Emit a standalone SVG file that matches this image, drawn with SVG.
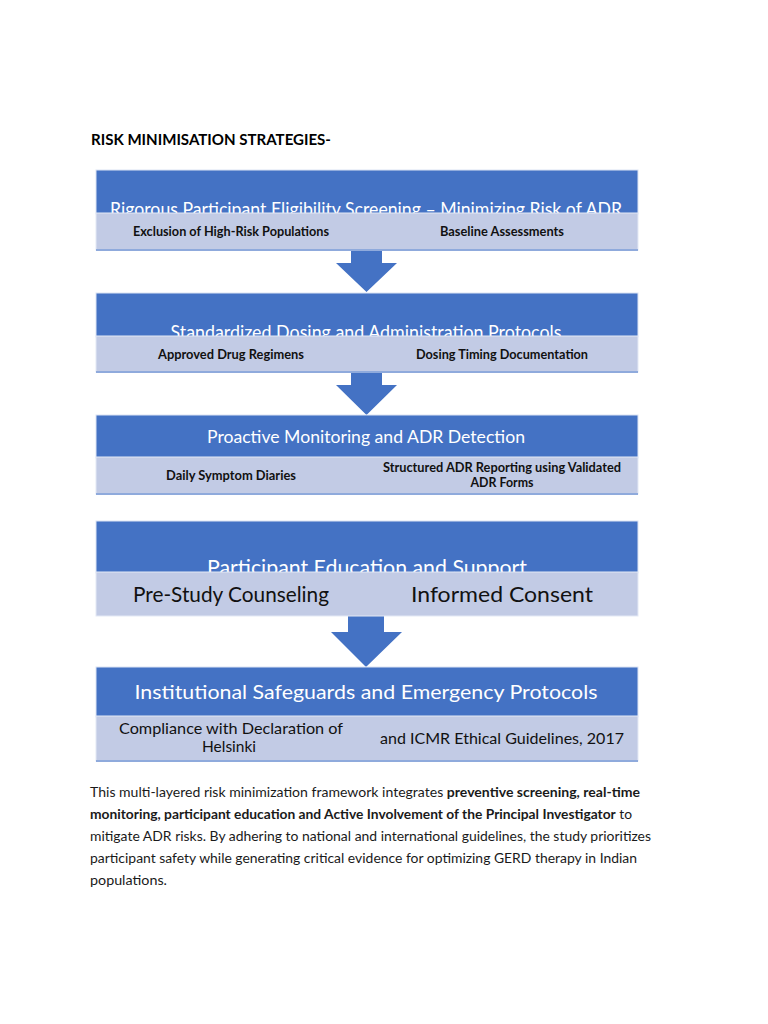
<svg xmlns="http://www.w3.org/2000/svg" width="768" height="1024" viewBox="0 0 768 1024">
<style>
.blue{fill:#4472C4;stroke:#DCE4F4;stroke-width:1}
.band{fill:#C2CBE5;stroke:#E4E9F5;stroke-width:1}
.line{stroke:#8FAADC;stroke-width:2}
.ttl{font-family:Lato,"Liberation Sans",sans-serif;fill:#FFFFFF;text-anchor:middle}
.sub{font-family:Lato,"Liberation Sans",sans-serif;fill:#111111;text-anchor:middle}
.b{font-weight:bold}
.para{font-family:Lato,"Liberation Sans",sans-serif;font-size:13.5px;fill:#1a1a1a}
.arrow{fill:#4472C4}
</style>
<rect width="768" height="1024" fill="#FFFFFF"/>
<text x="91" y="145" font-family="Lato,'Liberation Sans',sans-serif" font-weight="bold" font-size="14.5" fill="#000" textLength="240" lengthAdjust="spacingAndGlyphs">RISK MINIMISATION STRATEGIES-</text>

<g id="connectors">
<polygon class="arrow" points="351,250 382,250 382,263 397,263 366.5,292 336,263 351,263"/>
<polygon class="arrow" points="351,372 382,372 382,385 397,385 366.5,415 336,385 351,385"/>
<polygon class="arrow" points="348,616 384,616 384,632 402,632 366,667 331,632 348,632"/>
</g>

<g id="node1">
<rect class="blue" x="96" y="170" width="542" height="44"/>
<text class="ttl" x="366" y="216" font-size="18.5" textLength="512" lengthAdjust="spacingAndGlyphs">Rigorous Participant Eligibility Screening – Minimizing Risk of ADR</text>
<rect class="band" x="96" y="213" width="542" height="37"/>
<line class="line" x1="96" y1="250" x2="638" y2="250" stroke-width="1"/>
<text class="sub b" x="231" y="236" font-size="12.5" textLength="196" lengthAdjust="spacingAndGlyphs">Exclusion of High-Risk Populations</text>
<text class="sub b" x="502" y="236" font-size="12.5" textLength="124" lengthAdjust="spacingAndGlyphs">Baseline Assessments</text>
</g>

<g id="node2">
<rect class="blue" x="96" y="293" width="542" height="44"/>
<text class="ttl" x="366" y="339" font-size="18.5" textLength="391" lengthAdjust="spacingAndGlyphs">Standardized Dosing and Administration Protocols</text>
<rect class="band" x="96" y="336" width="542" height="36"/>
<line class="line" x1="96" y1="372" x2="638" y2="372" stroke-width="1"/>
<text class="sub b" x="231" y="359" font-size="12.5" textLength="146" lengthAdjust="spacingAndGlyphs">Approved Drug Regimens</text>
<text class="sub b" x="502" y="359" font-size="12.5" textLength="172" lengthAdjust="spacingAndGlyphs">Dosing Timing Documentation</text>
</g>

<g id="node3">
<rect class="blue" x="96" y="415" width="542" height="43"/>
<text class="ttl" x="366" y="443" font-size="17" textLength="318" lengthAdjust="spacingAndGlyphs">Proactive Monitoring and ADR Detection</text>
<rect class="band" x="96" y="457" width="542" height="37"/>
<line class="line" x1="96" y1="494" x2="638" y2="494"/>
<text class="sub b" x="231" y="480" font-size="12.5" textLength="130" lengthAdjust="spacingAndGlyphs">Daily Symptom Diaries</text>
<text class="sub b" x="502" y="472" font-size="12.5" textLength="238" lengthAdjust="spacingAndGlyphs">Structured ADR Reporting using Validated</text>
<text class="sub b" x="502" y="487" font-size="12.5" textLength="63" lengthAdjust="spacingAndGlyphs">ADR Forms</text>
</g>

<g id="node4">
<rect class="blue" x="96" y="521" width="542" height="52"/>
<text class="ttl" x="367" y="575" font-size="21" textLength="320" lengthAdjust="spacingAndGlyphs">Participant Education and Support</text>
<rect class="band" x="96" y="572" width="542" height="44"/>
<text class="sub" x="231" y="602" font-size="22" textLength="196" lengthAdjust="spacingAndGlyphs">Pre-Study Counseling</text>
<text class="sub" x="502" y="602" font-size="22" textLength="182" lengthAdjust="spacingAndGlyphs">Informed Consent</text>
</g>

<g id="node5">
<rect class="blue" x="96" y="667" width="542" height="50"/>
<text class="ttl" x="366" y="699" font-size="20" textLength="463" lengthAdjust="spacingAndGlyphs">Institutional Safeguards and Emergency Protocols</text>
<rect class="band" x="96" y="716" width="542" height="45"/>
<line class="line" x1="96" y1="761" x2="638" y2="761"/>
<text class="sub" x="231" y="734" font-size="16" textLength="224" lengthAdjust="spacingAndGlyphs">Compliance with Declaration of</text>
<text class="sub" x="229" y="752" font-size="16" textLength="54" lengthAdjust="spacingAndGlyphs">Helsinki</text>
<text class="sub" x="502" y="744" font-size="16" textLength="244" lengthAdjust="spacingAndGlyphs">and ICMR Ethical Guidelines, 2017</text>
</g>

<g id="paragraph">
<text class="para" x="90" y="797" textLength="550" lengthAdjust="spacingAndGlyphs">This multi-layered risk minimization framework integrates <tspan font-weight="bold">preventive screening, real-time</tspan></text>
<text class="para" x="90" y="819" textLength="542" lengthAdjust="spacingAndGlyphs"><tspan font-weight="bold">monitoring, participant education and Active Involvement of the Principal Investigator</tspan> to</text>
<text class="para" x="90" y="841" textLength="561" lengthAdjust="spacingAndGlyphs">mitigate ADR risks. By adhering to national and international guidelines, the study prioritizes</text>
<text class="para" x="90" y="863" textLength="547" lengthAdjust="spacingAndGlyphs">participant safety while generating critical evidence for optimizing GERD therapy in Indian</text>
<text class="para" x="90" y="885" textLength="77" lengthAdjust="spacingAndGlyphs">populations.</text>
</g>
</svg>
